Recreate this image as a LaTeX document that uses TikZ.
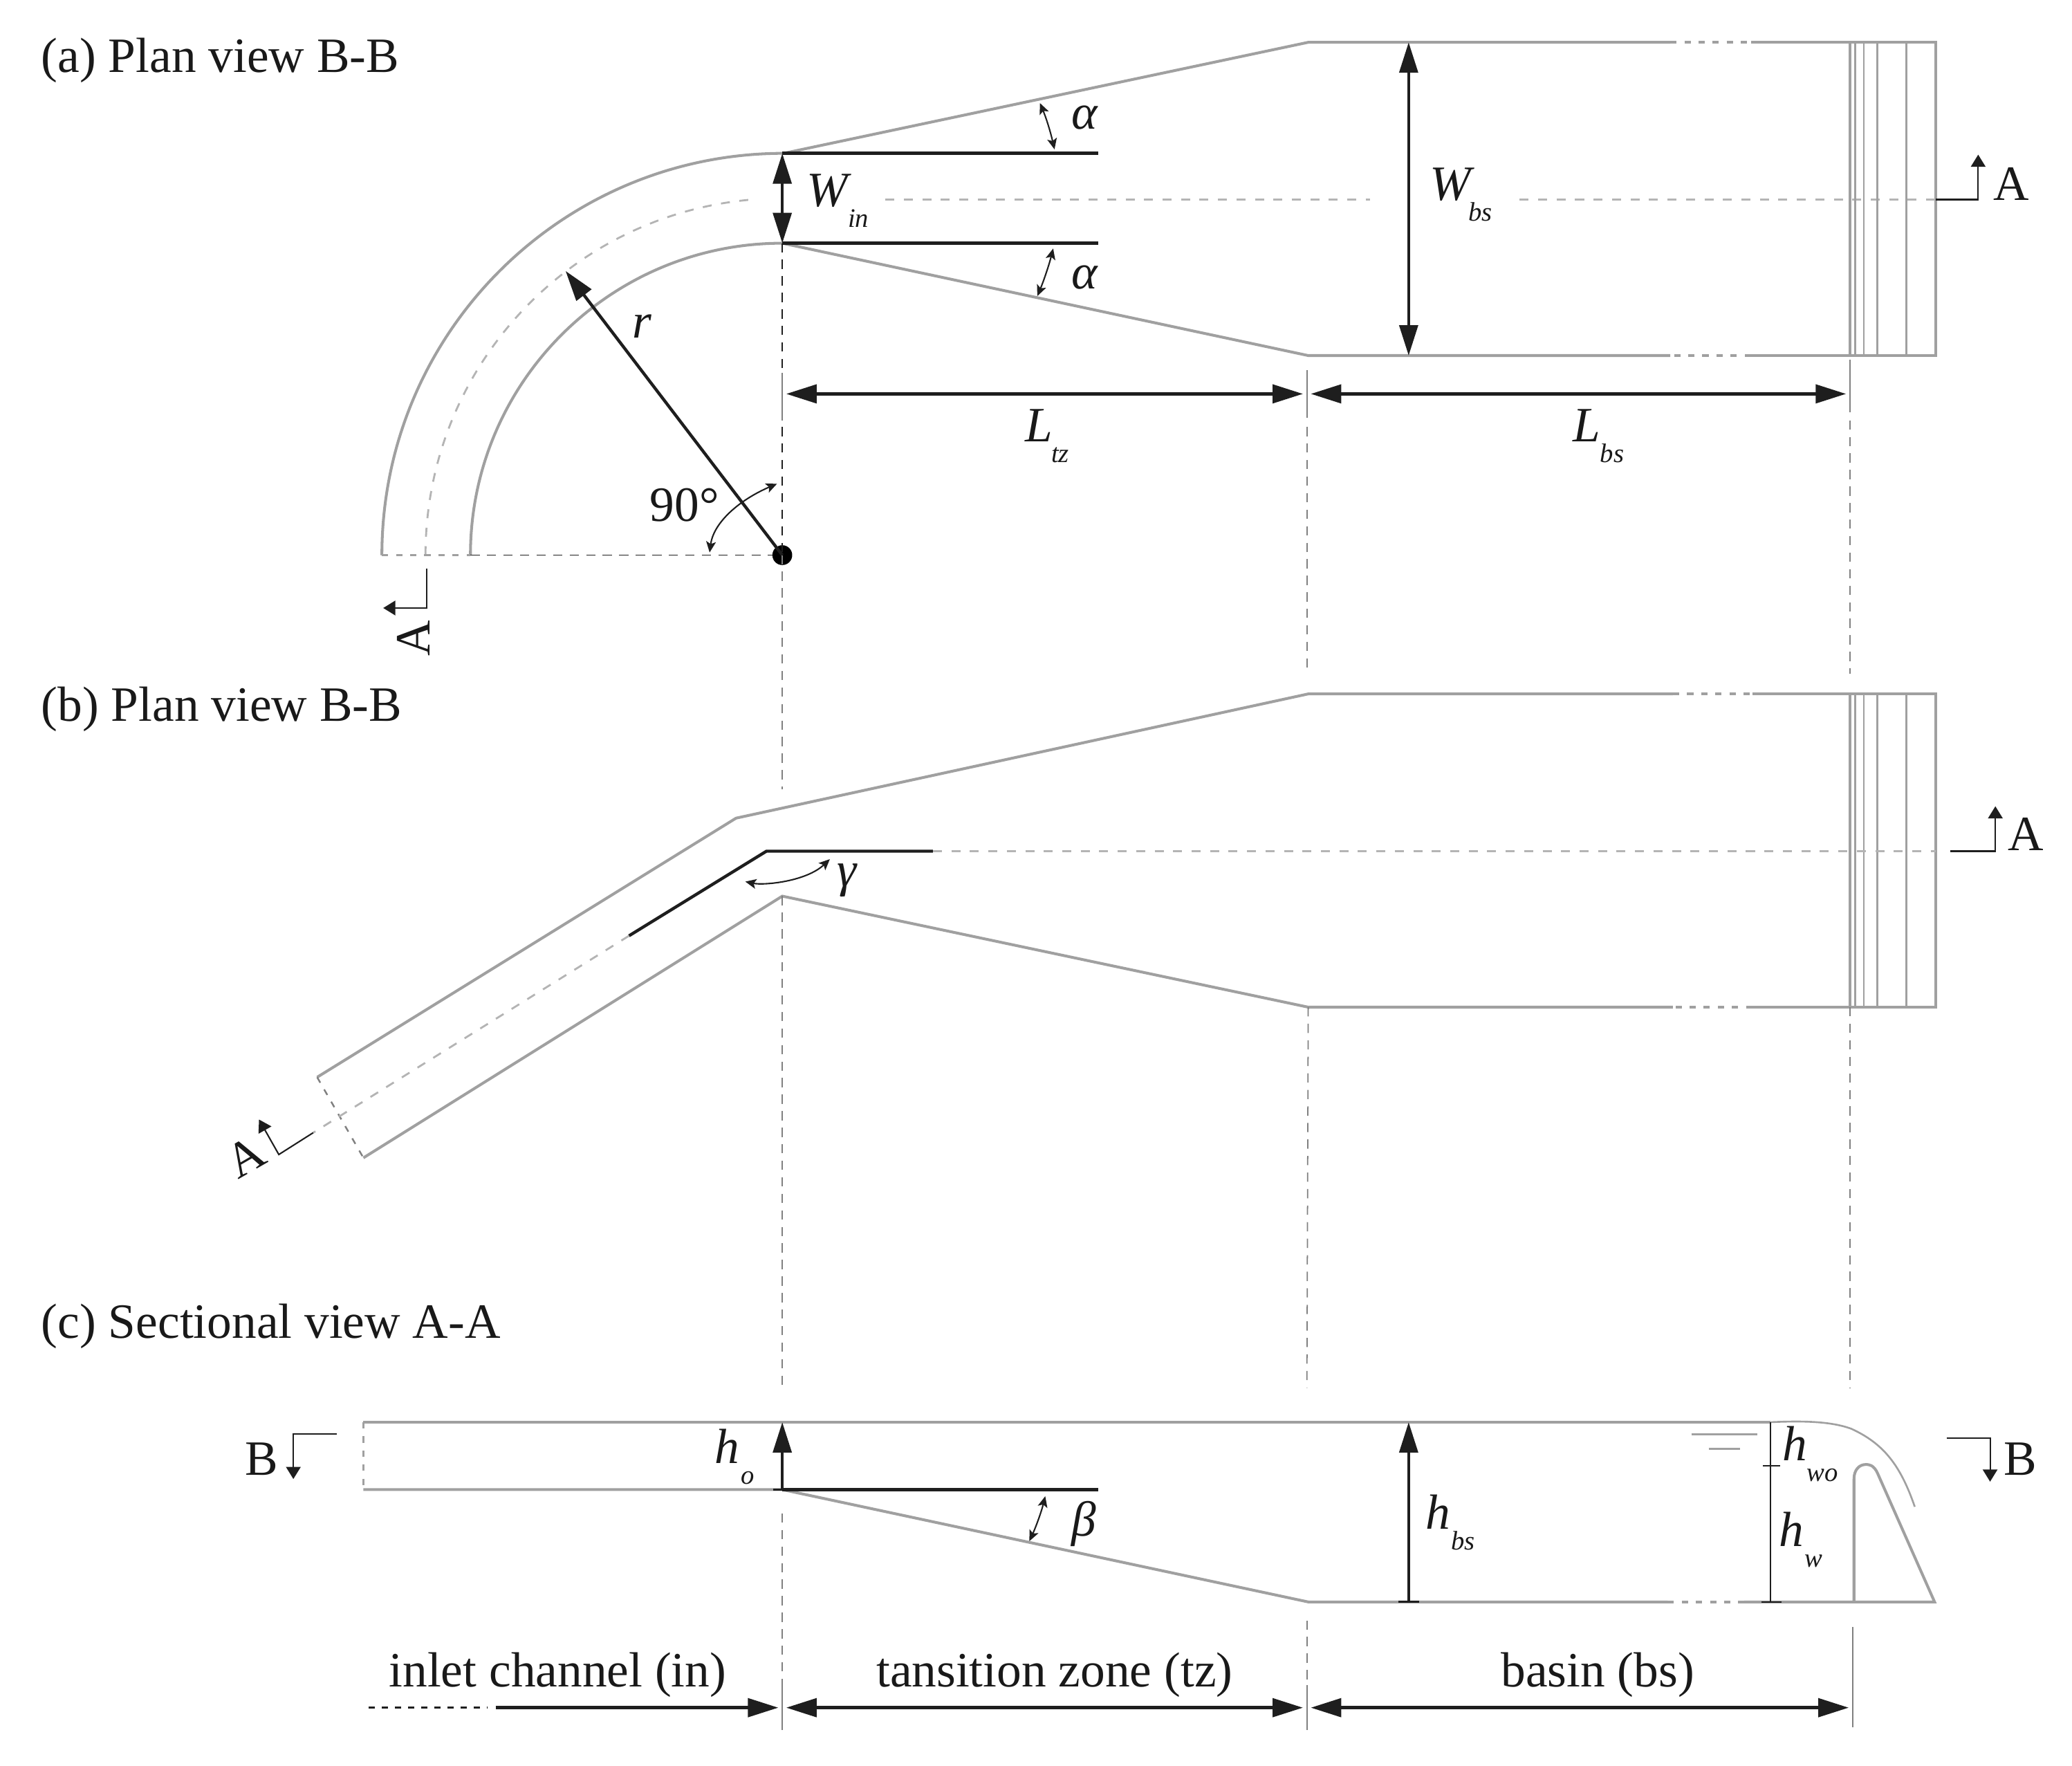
\documentclass[tikz,border=0pt]{standalone}
\usepackage{fontspec}
\setmainfont{Liberation Serif}
\usetikzlibrary{arrows.meta}
\definecolor{wallc}{HTML}{A0A0A0}
\definecolor{dashc}{HTML}{B4B4B4}
\definecolor{darkc}{HTML}{1E1E1E}
\definecolor{guidec}{HTML}{808080}
\newcommand{\qty}[3]{{\fontsize{20.3}{20.3}\selectfont\itshape #1\hspace{#3}\raisebox{-.42em}{\fontsize{11}{11}\selectfont #2}}}
\tikzset{
  x=0.019107cm,y=-0.019107cm,
  wall/.style={draw=wallc,line width=1.15pt,line join=miter},
  thinwall/.style={draw=wallc,line width=.75pt},
  bline/.style={draw=darkc,line width=1.25pt},
  cdash/.style={draw=dashc,line width=.8pt,dash pattern=on 3.7pt off 3.9pt},
  gapdash/.style={draw=wallc,line width=1.15pt,dash pattern=on 2.6pt off 3.2pt},
  guide/.style={draw=guidec,line width=.5pt,dash pattern=on 3.8pt off 3pt},
  guideb/.style={draw=darkc,line width=.55pt,dash pattern=on 3.8pt off 3pt},
  tick/.style={draw=guidec,line width=.55pt},
  dim/.style={draw=darkc,line width=1.25pt,{Stealth[length=12.5pt,width=7.6pt,inset=0pt]}-{Stealth[length=12.5pt,width=7.6pt,inset=0pt]}},
  dimup/.style={draw=darkc,line width=1.25pt,-{Stealth[length=12.5pt,width=7.6pt,inset=0pt]}},
  small/.style={draw=darkc,line width=.6pt,{Stealth[length=4.5pt,width=4pt,inset=1pt]}-{Stealth[length=4.5pt,width=4pt,inset=1pt]}},
  sect/.style={draw=darkc,line width=.6pt,-{Stealth[length=5pt,width=6pt,inset=0pt]}},
  txt/.style={font=\fontsize{20.3}{20.3}\selectfont,inner sep=0pt,text=black!90},
  itxt/.style={font=\fontsize{20.3}{20.3}\selectfont\itshape,inner sep=0pt,text=black!90},
  head/.style={txt,anchor=base west},
  lab/.style={inner sep=0pt,text=black!90},
}
\begin{document}
\begin{tikzpicture}
\useasboundingbox (0,0) rectangle (1568,1335.7);
% ---- shared coordinates
\coordinate (O) at (592,420);
\coordinate (tA) at (592,116);
\coordinate (iA) at (592,184);
\foreach \nm/\xx/\yy in {a1/990/32,a2/1264/32,a3/1325/32,a4/1465/32,a5/1465/269,a6/1325/269,a7/1264/269,a8/990/269,
  b1/240/815,b2/557/619,b3/990/525,b4/1266/525,b5/1326/525,b6/1465/525,b7/1465/762,b8/1326/762,b9/1266/762,b10/990/762,b11/592/678,b12/275/876,
  c1/275/1076,c2/275/1127,c3/592/1127,c4/990/1212,c5/1262/1212,c6/1320/1212,c7/1464/1212,c8/1340/1076}
  {\coordinate (\nm) at (\xx,\yy);}

% ---- (a) plan view
\node[head] (ta) at (31,54.5) {(a) Plan view B-B};
\draw[wall] (289,420) arc[start angle=180,end angle=270,radius=304] -- (a1) -- (a2);
\draw[gapdash] (a2) -- (a3);
\draw[wall] (a3) -- (a4) -- (a5) -- (a6);
\draw[gapdash] (a6) -- (a7);
\draw[wall] (a7) -- (a8) -- (iA) arc[start angle=270,end angle=180,radius=236];
\draw[cdash] (322,420) arc[start angle=180,end angle=265,radius=270];
\draw[cdash] (670,151) -- (1037,151);
\draw[cdash] (1150,151) -- (1465,151);
\foreach \xx/\ww in {1400/1.05,1404/.7,1410.5/.6,1420.5/.8,1442.5/.8}
  \draw[wallc,line width=\ww pt] (\xx,32) -- (\xx,269);
\draw[bline] (tA) -- (831,116);
\draw[bline] (iA) -- (831,184);
\draw[gapdash,line width=.8pt] (289,420) -- (356,420);
\draw[guideb] (356,420) -- (O);
\fill[black] (O) circle[radius=7.5];
\draw[dim] (tA) -- (iA);
\draw[dim] (1066,32) -- (1066,269);
\draw[dimup] (O) -- (428,205);
\draw[dim] (595,298) -- (986,298);
\draw[dim] (992,298) -- (1397,298);
\draw[small] (787,78) .. controls (792,90) and (795,100) .. (798,113);
\draw[small] (797,188) .. controls (794,200) and (790,212) .. (785,224);
\draw[small] (588,366) .. controls (560,378) and (540,395) .. (537,418);
\draw[guideb] (iA) -- (592,282);
\draw[tick] (592,282) -- (592,318);
\draw[guideb] (592,323) -- (O);
\draw[guide] (O) -- (592,597);
\draw[tick] (989,280) -- (989,316);
\draw[guide] (989,323) -- (989,510);
\draw[tick] (1400,272) -- (1400,312);
\draw[guide] (1400,318) -- (1400,510);
\draw[sect] (323,430) -- (323,460) -- (290,460);
\node[txt,rotate=90] (aA1) at (313,483) {A};
\draw[sect] (1465,151) -- (1497,151) -- (1497,117);
\node[txt] (aA2) at (1522,139) {A};
\node[lab] (wi) at (634,152) {\qty{W}{in}{0em}};
\node[lab] (wb) at (1105.5,147) {\qty{W}{bs}{-.05em}};
\node[lab] (ltz) at (792.5,330) {\qty{L}{tz}{-.03em}};
\node[lab] (lbs) at (1209.5,330) {\qty{L}{bs}{0em}};
\node[itxt] (rr) at (486,247) {r};
\node[txt] (nn) at (518,382) {90°};
\node[itxt] (al1) at (821,89) {α};
\node[itxt] (al2) at (821,210) {α};

% ---- (b) plan view
\node[head] (tb) at (31,545.5) {(b) Plan view B-B};
\draw[wall] (b1) -- (b2) -- (b3) -- (b4);
\draw[gapdash] (b4) -- (b5);
\draw[wall] (b5) -- (b6) -- (b7) -- (b8);
\draw[gapdash] (b8) -- (b9);
\draw[wall] (b9) -- (b10) -- (b11) -- (b12);
\draw[gapdash,line width=.7pt,draw=guidec] (b1) -- (b12);
\foreach \xx/\ww in {1400/1.05,1404/.7,1410.5/.6,1420.5/.8,1442.5/.8}
  \draw[wallc,line width=\ww pt] (\xx,525) -- (\xx,762);
\draw[bline] (476,708) -- (580,644) -- (706,644);
\draw[cdash] (476,708) -- (237,857);
\draw[cdash] (706,644) -- (1465,644);
\draw[small] (564,667) .. controls (578,670) and (610,667) .. (628,650);
\draw[guide] (b11) -- (592,1050);
\draw[guide] (b10) -- (989,1050);
\draw[guide] (1400,762) -- (1400,1050);
\draw[sect] (237,857) -- (211,873.5) -- (196,847);
\node[txt,rotate=30] (bA1) at (186,875) {A};
\draw[sect] (1476,644) -- (1510,644) -- (1510,610);
\node[txt] (bA2) at (1533,631) {A};
\node[itxt] (gam) at (641,666) {γ};

% ---- (c) section
\node[head] (tc) at (31,1012.5) {(c) Sectional view A-A};
\draw[wall] (c1) -- (c8);
\draw[thinwall] (c8) .. controls (1362,1075) and (1385,1075) .. (1401,1081)
   .. controls (1425,1092) and (1438,1108) .. (1449,1140);
\draw[gapdash,line width=.7pt] (c1) -- (c2);
\draw[wall] (c2) -- (c3) -- (c4) -- (c5);
\draw[gapdash] (c5) -- (c6);
\draw[wall] (c6) -- (c7) -- (1421,1115) .. controls (1418,1108) and (1414,1108) .. (1412,1108)
   .. controls (1407,1108) and (1403,1112) .. (1403,1119) -- (1403,1212);
\draw[bline] (c3) -- (831,1127);
\draw[dimup] (c3) -- (592,1076);
\draw[dimup] (1066,1212) -- (1066,1076);
\draw[bline,line width=.9pt] (1058,1212) -- (1074,1212);
\draw[bline,line width=.9pt] (585,1127) -- (597,1127);
\draw[darkc,line width=.6pt] (c8) -- (1340,1212);
\draw[darkc,line width=.4pt] (1334,1109) -- (1347,1109);
\draw[darkc,line width=.6pt] (1333,1212) -- (1348,1212);
\draw[wallc,line width=.9pt] (1280,1085) -- (1330,1085);
\draw[wallc,line width=.9pt] (1293,1096) -- (1317,1096);
\draw[small] (791,1132) .. controls (788,1144) and (784,1155) .. (779,1166);
\draw[sect] (255,1085) -- (222,1085) -- (222,1119);
\node[txt] (cB1) at (198,1104) {B};
\draw[sect] (1473,1088) -- (1506,1088) -- (1506,1121);
\node[txt] (cB2) at (1529,1104) {B};
\node[lab] (ho) at (556,1102) {\qty{h}{o}{.04em}};
\node[lab] (hbs) at (1097.5,1152) {\qty{h}{bs}{.02em}};
\node[lab] (hwo) at (1370,1100) {\qty{h}{wo}{0em}};
\node[lab] (hw) at (1363,1165) {\qty{h}{w}{.02em}};
\node[itxt] (bet) at (820,1153) {β};
\draw[guide] (592,1145) -- (592,1275);
\draw[guide] (989,1226) -- (989,1275);
\draw[tick] (592,1275) -- (592,1309);
\draw[tick] (989,1275) -- (989,1309);
\draw[tick] (1402,1231) -- (1402,1307);
\node[txt] (l1) at (422,1267) {inlet channel (in)};
\node[txt] (l2) at (798,1267) {tansition zone (tz)};
\node[txt] (l3) at (1209,1267) {basin (bs)};
\coordinate (r0) at (279,1292);
\coordinate (r1) at (369,1292);
\coordinate (r2) at (375,1292);
\draw[draw=darkc,line width=1pt,dash pattern=on 2.6pt off 2.8pt] (r0) -- (r1);
\draw[dimup] (r2) -- (589,1292);
\draw[dim] (595,1292) -- (986,1292);
\draw[dim] (992,1292) -- (1399,1292);
\end{tikzpicture}
\end{document}
